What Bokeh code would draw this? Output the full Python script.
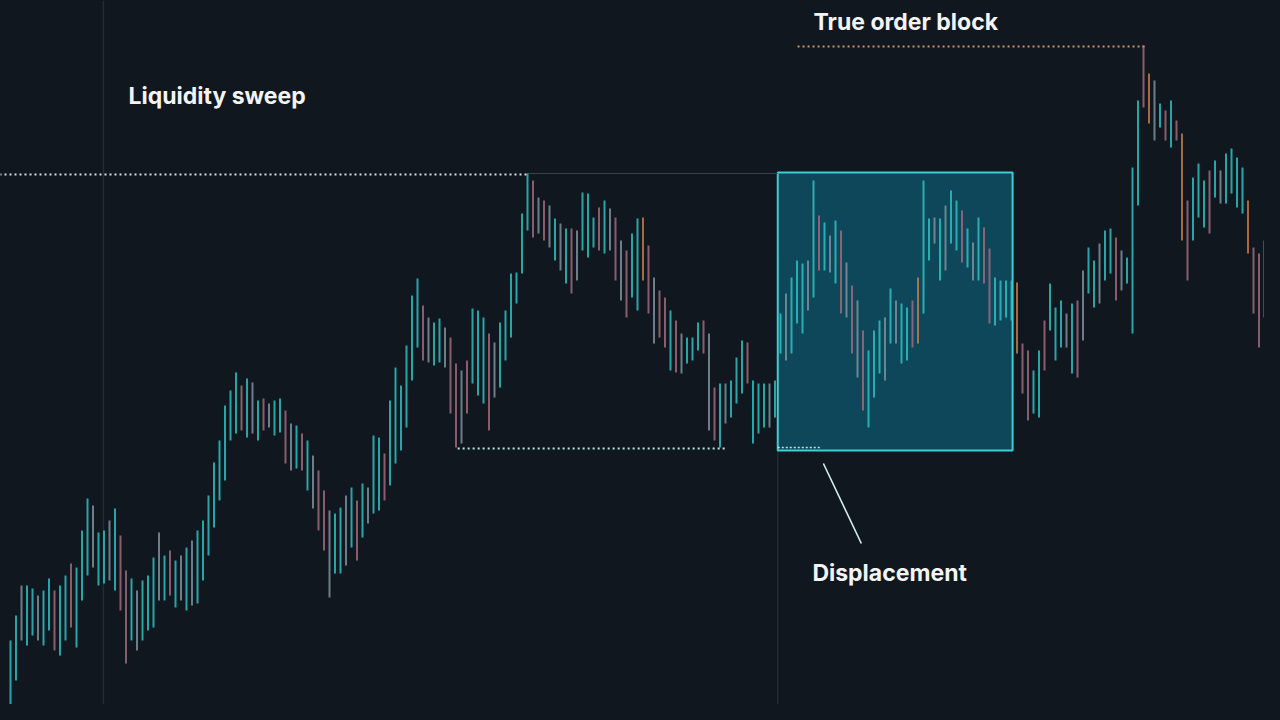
from bokeh.plotting import figure
from bokeh.models import Range1d, Label, ColumnDataSource, GlobalInlineStyleSheet
from bokeh.embed import file_html
from bokeh.resources import INLINE

BG = "#10171f"

# candle highs / lows (price units)
highs = [
    80, 105, 135, 135, 132, 125, 130, 142, 130, 135,
    145, 157, 153, 190, 222, 215, 188, 190, 200, 212,
    185, 150, 142, 130, 140, 145, 163, 188, 165, 170,
    160, 165, 173, 180, 190, 200, 225, 258, 280, 315,
    330, 348, 335, 342, 338, 320, 322, 317, 320, 322,
    310, 297, 295, 287, 280, 265, 250, 230, 210, 207,
    213, 225, 233, 220, 237, 233, 285, 283, 267, 320,
    353, 335, 375, 425, 442, 415, 403, 398, 402, 393,
    383, 357, 350, 360, 412, 410, 403, 387, 378, 398,
    410, 447, 448, 507, 547, 540, 523, 520, 515, 502,
    497, 492, 492, 490, 528, 527, 503, 513, 520, 512,
    503, 480, 470, 487, 502, 503, 475, 443, 430, 423,
    410, 400, 387, 383, 383, 398, 400, 387, 333, 337,
    337, 340, 363, 380, 378, 340, 337, 337, 337, 340,
    407, 427, 443, 460, 457, 460, 540, 505, 498, 485,
    500, 490, 458, 435, 420, 390, 370, 390, 400, 403,
    432, 420, 417, 413, 420, 443, 540, 502, 503, 502,
    515, 530, 520, 510, 492, 478, 503, 493, 472, 443,
    440, 440, 440, 438, 377, 370, 350, 370, 400, 437,
    413, 420, 407, 417, 420, 450, 473, 460, 477, 490,
    492, 483, 470, 463, 553, 620, 675, 647, 640, 617,
    610, 620, 600, 587, 520, 543, 557, 540, 550, 560,
    550, 567, 572, 563, 553, 520, 473, 467, 480, 490,
]
lows = [
    15, 40, 80, 75, 85, 80, 75, 90, 70, 65,
    80, 93, 73, 120, 145, 153, 135, 137, 140, 130,
    110, 57, 80, 70, 80, 90, 93, 120, 120, 125,
    113, 120, 110, 115, 117, 140, 165, 193, 220, 240,
    280, 287, 290, 283, 287, 280, 290, 293, 285, 288,
    257, 250, 252, 250, 230, 212, 190, 170, 123, 147,
    147, 155, 173, 160, 183, 197, 207, 210, 220, 235,
    257, 270, 293, 340, 373, 360, 358, 355, 358, 353,
    307, 273, 277, 307, 337, 325, 317, 290, 323, 333,
    360, 383, 417, 447, 490, 483, 487, 480, 473, 460,
    450, 437, 427, 440, 470, 463, 473, 470, 467, 470,
    440, 420, 403, 423, 410, 440, 407, 377, 383, 373,
    350, 348, 347, 357, 360, 370, 367, 290, 280, 273,
    297, 303, 317, 327, 337, 277, 287, 293, 293, 303,
    367, 360, 367, 397, 387, 410, 423, 450, 450, 448,
    437, 407, 403, 367, 343, 310, 293, 323, 347, 340,
    377, 377, 357, 360, 373, 377, 407, 460, 477, 440,
    450, 477, 470, 458, 453, 440, 440, 437, 397, 395,
    400, 403, 400, 367, 327, 300, 307, 303, 350, 390,
    360, 373, 373, 347, 343, 380, 427, 413, 417, 440,
    447, 420, 430, 437, 387, 515, 613, 597, 580, 593,
    580, 573, 580, 480, 440, 480, 503, 493, 487, 523,
    517, 517, 527, 513, 507, 467, 407, 373, 403, 410,
]
# u = bullish teal, d = bearish rose, g = neutral grey, o = orange
codes = "".join([
    "uuguuguudu", "uduuuguugu", "dduguuugud", "uguguuuuuu", "uudugudguu",
    "dgudugddgu", "uguduguudu", "uuuuudguug", "ddgduuudgu", "uuuuudgdgu",
    "gudguuudug", "dgduuodgdd", "udguuudgdu", "guuuduuugu", "uguuugudug",
    "udgdgduuug", "uguudouugu", "guuduguddu", "uuuodduudu", "uugudguugu",
    "udguuudogu", "dudoduuudu", "guuuuoddug",
])

# annotated levels / zones
sweep_level = 546
sweep_end = 94
range_low = 272
range_low_start = 81.3
range_low_end = 130
ob_left, ob_right = 139.5, 182.2
ob_bottom, ob_top = 270, 548
high_level = 674
high_start, high_end = 143.1, 206.7

N = len(highs)
idx = list(range(N))
palette = {"u": "#2cbfc2", "d": "#9f6a7c", "g": "#7d909c", "o": "#c27a4a"}
colors = [palette[c] for c in (codes + "u" * N)[:N]]

p = figure(width=1264, height=704, output_backend="svg", toolbar_location=None,
           x_range=Range1d(-1.818, 228.0), y_range=Range1d(16, 720),
           x_axis_location=None, y_axis_location=None, min_border=0)
p.grid.visible = False
p.background_fill_color = BG
p.border_fill_color = BG
p.outline_line_color = None
p.stylesheets = [GlobalInlineStyleSheet(css="html, body { background-color: #10171f; }")]

# faint vertical separators
p.segment(x0=[16.9], y0=[0], x1=[16.9], y1=[720], line_color="#263240", line_width=1.5, line_alpha=0.8)
p.segment(x0=[ob_left], y0=[0], x1=[ob_left], y1=[ob_bottom], line_color="#263240", line_width=1.5, line_alpha=0.8)

# order block zone
p.quad(left=[ob_left], right=[ob_right], bottom=[ob_bottom], top=[ob_top],
       fill_color="#0f4a5e", fill_alpha=0.95, line_color="#3fcdd4", line_width=2)

# faint continuation line from sweep high to zone
p.segment(x0=[sweep_end], y0=[sweep_level + 1], x1=[ob_left], y1=[sweep_level + 1],
          line_color="#34434f", line_width=1.2)

# candles
src = ColumnDataSource(dict(x=idx, lo=lows, hi=highs, c=colors))
p.segment(x0="x", y0="lo", x1="x", y1="hi", source=src, line_color="c", line_width=2, line_alpha=0.85)

# dotted levels
p.segment(x0=[-2], y0=[sweep_level], x1=[sweep_end], y1=[sweep_level],
          line_color="#d9dee3", line_width=2, line_dash="2 3")
p.segment(x0=[range_low_start], y0=[range_low], x1=[range_low_end], y1=[range_low],
          line_color="#bfe3e6", line_width=2, line_dash="2 3")
p.segment(x0=[ob_left], y0=[range_low + 1], x1=[ob_left + 8], y1=[range_low + 1],
          line_color="#bfe3e6", line_width=1.5, line_dash="2 2")
p.segment(x0=[high_start], y0=[high_level], x1=[high_end], y1=[high_level],
          line_color="#c98f6c", line_width=2, line_dash="2 3")

# pointer to displacement label
p.segment(x0=[147.8], y0=[257], x1=[154.7], y1=[177], line_color="#d4ecf0", line_width=1.6)

for tx, ty, t in [(21.45, 625, "Liquidity sweep"),
                  (146.0, 699, "True order block"),
                  (145.8, 148, "Displacement")]:
    p.add_layout(Label(x=tx, y=ty, text=t, text_color="#f2f4f5", text_font="Inter",
                       text_font_style="bold", text_font_size="23px", text_baseline="middle"))

open("out.html", "w").write(file_html(p, INLINE))
